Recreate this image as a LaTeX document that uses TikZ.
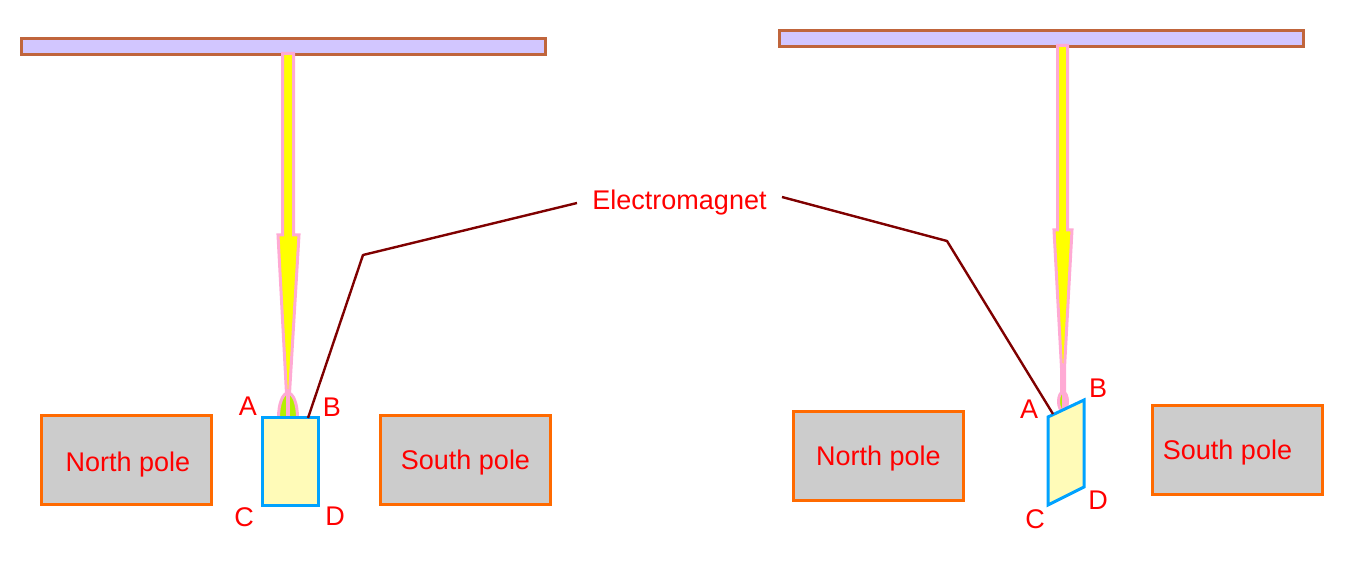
\documentclass[tikz,border=0pt]{standalone}
\usepackage{fontspec}
\setmainfont{Liberation Sans}
\definecolor{beamfill}{HTML}{D2C6FF}
\definecolor{beamedge}{HTML}{C0653C}
\definecolor{wirepink}{HTML}{FFAAD4}
\definecolor{wirefill}{HTML}{FFFF00}
\definecolor{loopgreen}{HTML}{B4F000}
\definecolor{coilfill}{HTML}{FFFBB8}
\definecolor{coiledge}{HTML}{00A2FF}
\definecolor{poleedge}{HTML}{FF6A00}
\definecolor{leader}{HTML}{7F0000}
\tikzset{
  beam/.style={draw=beamedge, fill=beamfill, line width=3pt, minimum width=524pt, minimum height=16pt, inner sep=0pt},
  pole/.style={draw=poleedge, fill=black!20, line width=3pt, minimum width=170pt, minimum height=89pt, inner sep=0pt, text=red},
  letter/.style={text=red, inner sep=0pt},
  wire/.style={draw=wirepink, fill=wirefill, line width=3pt, miter limit=2},
  coil/.style={draw=coiledge, fill=coilfill, line width=3pt},
  lead/.style={draw=leader, line width=2.4pt, line join=round},
}
\begin{document}
\begin{tikzpicture}[x=1pt, y=-1pt, font=\fontsize{27}{30}\selectfont]
\useasboundingbox (0,0) rectangle (1358,585);

% left side
\node[beam] (beamL) at (283.5,46.5) {};
\draw[wire] (282.5,53.5) -- (293.5,53.5) -- (293.5,235) -- (299,235) -- (289.6,392) -- (286.4,392) -- (278,235) -- (282.5,235) -- cycle;
\draw[draw=wirepink, fill=loopgreen, line width=3pt] (278.5,418) .. controls (278.5,403) and (283,393) .. (288,393) .. controls (293,393) and (297.5,403) .. (297.5,418);
\draw[draw=wirepink, line width=4pt] (288,392) -- (288,418);
\node[coil, minimum width=56.5pt, minimum height=88pt, inner sep=0pt] (coilL) at (290.5,461.5) {};
\node[pole] (northL) at (126.5,460) {};
\node[pole] (southL) at (465.5,460) {};
\node[text=red, inner sep=0pt] (northtextL) at (128,465) {North pole};
\node[text=red, inner sep=0pt] (southtextL) at (465.5,463) {South pole};
\node[letter] (AL) at (248,406) {A};
\node[letter] (BL) at (332,407) {B};
\node[letter] (CL) at (244,517) {C};
\node[letter] (DL) at (335,516) {D};

% right side
\node[beam] (beamR) at (1041.5,38.5) {};
\draw[wire] (1057.5,45.5) -- (1067.5,45.5) -- (1067.5,230) -- (1072,230) -- (1064.5,368) -- (1064.5,392) -- (1061.5,392) -- (1061.5,368) -- (1054,230) -- (1057.5,230) -- cycle;
\draw[draw=wirepink, fill=loopgreen, line width=3pt] (1063,401.5) ellipse (4.5pt and 9.5pt);
\draw[draw=wirepink, line width=3.5pt] (1063.8,392) -- (1063.8,411);
\coordinate (coilA) at (1048,417);
\coordinate (coilB) at (1084,400);
\coordinate (coilD) at (1084,487);
\coordinate (coilC) at (1048,505);
\draw[coil] (coilA) -- (coilB) -- (coilD) -- (coilC) -- cycle;
\node[pole] (northR) at (878.5,456) {};
\node[pole] (southR) at (1237.5,450) {};
\node[text=red, inner sep=0pt] (northtextR) at (878.5,459) {North pole};
\node[text=red, inner sep=0pt] (southtextR) at (1227.5,453) {South pole};
\node[letter] (AR) at (1029,409) {A};
\node[letter] (BR) at (1098,388) {B};
\node[letter] (CR) at (1035,519) {C};
\node[letter] (DR) at (1098,500) {D};

% the two leaders
\node[letter] (magnet) at (679.5,203) {Electromagnet};
\coordinate (startL) at (577,203);
\coordinate (bendL) at (363,255);
\coordinate (endL) at (308,418);
\coordinate (startR) at (782,197);
\coordinate (bendR) at (947,241);
\coordinate (endR) at (1053,414);
\draw[lead] (startL) -- (bendL) -- (endL);
\draw[lead] (startR) -- (bendR) -- (endR);
\end{tikzpicture}
\end{document}
